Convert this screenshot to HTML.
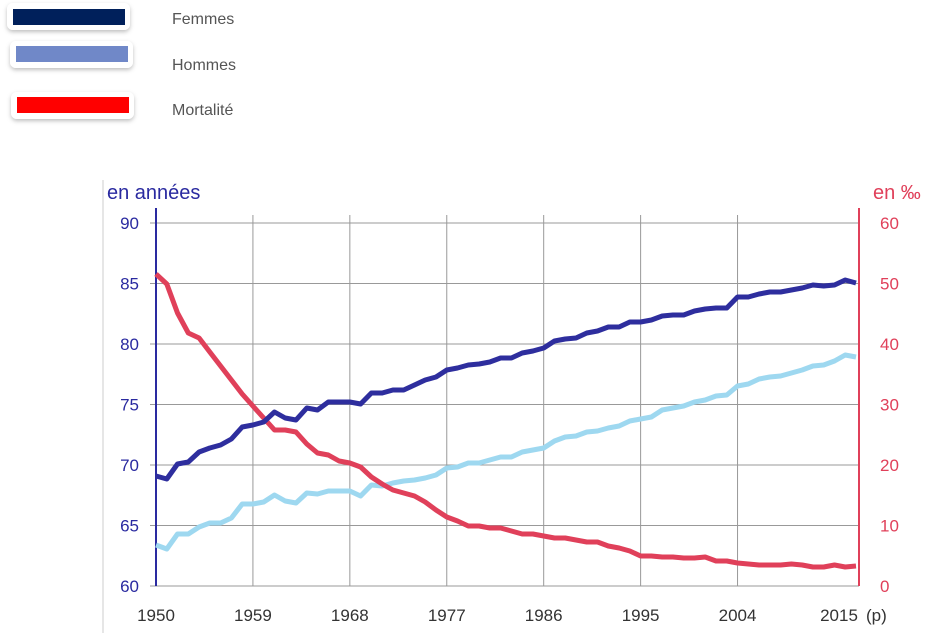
<!DOCTYPE html>
<html><head><meta charset="utf-8"><style>
body{margin:0;background:#fff;width:948px;height:633px;overflow:hidden;font-family:"Liberation Sans",sans-serif}
</style></head><body>
<svg id="s" width="948" height="633" xmlns="http://www.w3.org/2000/svg" font-family="Liberation Sans, sans-serif">
<defs><filter id="sh" x="-20%" y="-50%" width="140%" height="200%"><feDropShadow dx="0" dy="2" stdDeviation="2" flood-color="#000" flood-opacity="0.25"/></filter></defs>
<rect x="7" y="3" width="123" height="27" rx="6" fill="#fff" filter="url(#sh)"/>
<rect x="13" y="9" width="112" height="16" fill="#00205b"/>
<rect x="10" y="41" width="123" height="27" rx="6" fill="#fff" filter="url(#sh)"/>
<rect x="16" y="46" width="112" height="16" fill="#7088c8"/>
<rect x="11" y="92" width="123" height="27" rx="6" fill="#fff" filter="url(#sh)"/>
<rect x="17" y="97" width="112" height="16" fill="#ff0000"/>
<g fill="#555" font-size="16"><text x="172" y="24">Femmes</text><text x="172" y="70">Hommes</text><text x="172" y="115">Mortalité</text></g>
<line x1="103" y1="180" x2="103" y2="633" stroke="#ddd" stroke-width="1.5"/>
<g id="grid" stroke="#999" stroke-width="1"></g>
<text x="107" y="199" fill="#2a2aa0" font-size="20">en années</text>
<text x="873" y="199" fill="#e0405a" font-size="20">en ‰</text>
<g id="lab" font-size="17"></g>
<line x1="156" y1="208" x2="156" y2="586" stroke="#2a2aa0" stroke-width="2"/>
<line x1="859" y1="208" x2="859" y2="586" stroke="#e0405a" stroke-width="2"/>
<g id="lines" fill="none" stroke-width="5" stroke-linejoin="round"></g>
</svg>
<script>
var ns="http://www.w3.org/2000/svg",g=document.getElementById('grid'),lab=document.getElementById('lab'),L=document.getElementById('lines');
function el(p,t,a,tx){var e=document.createElementNS(ns,t);for(var k in a)e.setAttribute(k,a[k]);if(tx!=null)e.textContent=tx;p.appendChild(e);return e;}
for(var i=0;i<7;i++){var y=223+i*60.5;el(g,'line',{x1:150,x2:859,y1:y,y2:y});
el(lab,'text',{x:139,y:y+6,'text-anchor':'end',fill:'#2a2aa0'},90-5*i);
el(lab,'text',{x:880,y:y+6,fill:'#e0405a'},60-10*i);}
var yrs=[1950,1959,1968,1977,1986,1995,2004,2015];
yrs.forEach(function(yr,i){var x=156+(yr-1950)*700/65;if(i>0&&i<7)el(g,'line',{x1:x,x2:x,y1:215,y2:586});
el(lab,'text',{x:i==7?839:x,y:621,'text-anchor':'middle',fill:'#333'},yr);});
el(lab,'text',{x:866,y:621,fill:'#333'},'(p)');
var F=[476,479,464,462,452,448,445,439,427,425,422,412,418,420,408,410,402,402,402,404,393,393,390,390,385,380,377,370,368,365,364,362,358,358,353,351,348,341,339,338,333,331,327,327,322,322,320,316,315,315,311,309,308,308,297,297,294,292,292,290,288,285,286,285,280,283];
var H=[545,549,534,534,527,523,523,518,504,504,502,495,501,503,493,494,491,491,491,496,485,486,483,481,480,478,475,468,467,463,463,460,457,457,452,450,448,441,437,436,432,431,428,426,421,419,417,410,408,406,402,400,396,395,386,384,379,377,376,373,370,366,365,361,355,357];
var M=[274,284,313,333,338,352,366,380,394,406,418,430,430,432,444,453,455,461,463,467,477,484,490,493,496,502,510,517,521,526,526,528,528,531,534,534,536,538,538,540,542,542,546,548,551,556,556,557,557,558,558,557,561,561,563,564,565,565,565,564,565,567,567,565,567,566];
function pl(d,c){el(L,'polyline',{stroke:c,points:d.map(function(v,i){return (156+i*700/65).toFixed(1)+','+v;}).join(' ')});}
pl(H,'#9ed8f0');pl(M,'#e0405a');pl(F,'#2e2e9e');
</script>
</body></html>
